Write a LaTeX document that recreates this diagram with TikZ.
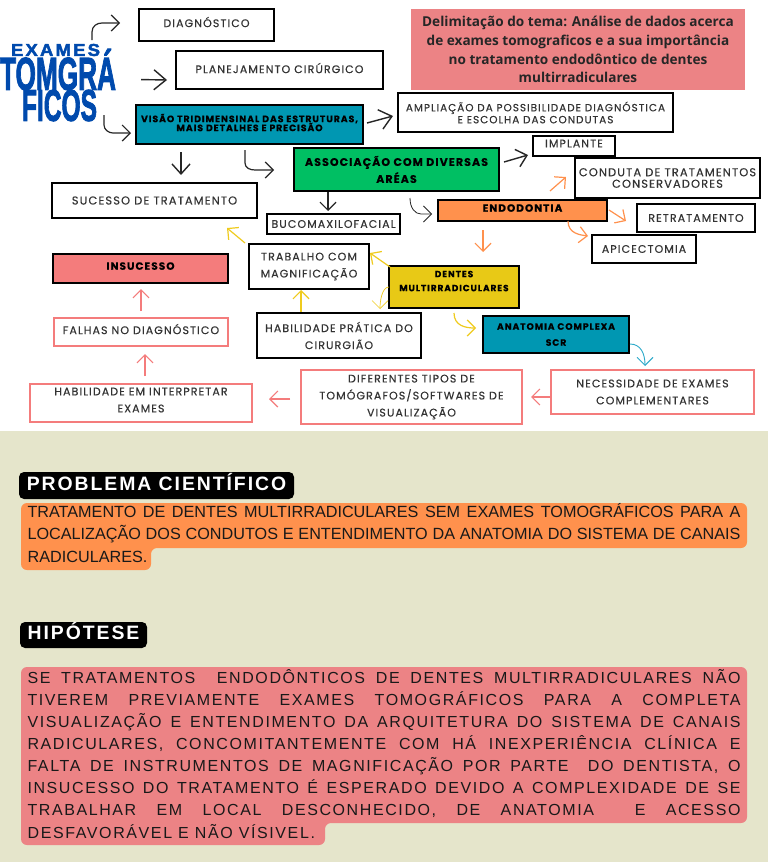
\documentclass[tikz,border=0pt]{standalone}
\usepackage{fontspec}
\usepackage{graphicx}
\usetikzlibrary{arrows.meta}
\setmainfont{Liberation Sans}
\newfontfamily\chartfont[LetterSpace=10, FakeBold=0.35]{Poppins}
\newfontfamily\headfont{Open Sans}
\newfontfamily\pillfont[LetterSpace=10]{Liberation Sans}
\newfontfamily\bigfont[BoldFeatures={FakeBold=2.5}]{Liberation Sans}
\lineskiplimit=-100pt
\definecolor{cInk}{HTML}{333333}
\definecolor{cBlue}{HTML}{004AAD}
\definecolor{cTeal}{HTML}{0097B2}
\definecolor{cGreen}{HTML}{00BF63}
\definecolor{cOrange}{HTML}{FF914D}
\definecolor{cYellow}{HTML}{E8C916}
\definecolor{cRed}{HTML}{F47C7C}
\definecolor{cRose}{HTML}{EC8385}
\definecolor{cSand}{HTML}{E5E5CB}
\definecolor{cArrY}{HTML}{EFCB1E}
\definecolor{cArrT}{HTML}{2BA9C9}
\newcommand{\fsz}[2]{\fontsize{#1}{#2}\selectfont}
\tikzset{
  chartbox/.style={rectangle, draw=black, line width=1.6pt, fill=white, align=center, inner sep=0pt,
                   outer sep=0pt, text=cInk, font=\chartfont\fsz{11}{17}},
  solidbox/.style={chartbox, text=black, font=\chartfont\bfseries\fsz{11}{17}},
  rosebox/.style={chartbox, draw=cRed, line width=1.4pt},
  blk/.style={-{Straight Barb[length=8pt, width=16pt]}, line width=1.2pt, draw=black!85},
  bigblk/.style={blk, -{Straight Barb[length=12pt, width=20pt]}, line width=1.4pt},
  thinblk/.style={blk, line width=0.8pt},
  orng/.style={blk, draw=cOrange},
  yllw/.style={blk, draw=cArrY},
  pnk/.style={blk, draw=cRed},
  tealarr/.style={blk, draw=cArrT, line width=0.9pt},
  pill/.style={rectangle, rounded corners=5pt, fill=black, text=white, inner sep=0pt, outer sep=0pt,
               text depth=8pt, font=\pillfont\bfseries\fsz{19.4}{22}},
  paraline/.style={anchor=base, inner sep=0pt, text=black!90},
}
\begin{document}
\begin{tikzpicture}[x=1pt, y=-1pt]
  \useasboundingbox (0,0) rectangle (768,862);
  \fill[white] (0,0) rectangle (768,431);
  \fill[cSand] (0,431) rectangle (768,862);

  % ---- title
  \node[inner sep=0pt, text=cBlue, font=\bigfont\bfseries] (exames) at (55.5,50)
       {\resizebox{89pt}{12pt}{\addfontfeature{LetterSpace=12}EXAMES}};
  \node[inner sep=0pt, text=cBlue, font=\bigfont\bfseries, anchor=south] (tomgra) at (58,90.5)
       {\resizebox{116pt}{41pt}{TOMGRÁ}};
  \node[inner sep=0pt, text=cBlue, font=\bigfont\bfseries] (ficos) at (59.5,105.5)
       {\resizebox{75pt}{31pt}{FICOS}};

  \node[rectangle, fill=cRose, minimum width=334pt, minimum height=81pt, align=center, inner sep=0pt,
        font=\headfont\bfseries\fsz{13.6}{18.8}, text=black!85] (tema) at (578,49.5)
       {Delimitação do tema: Análise de dados acerca\\ de exames tomograficos e a sua importância\\
        no tratamento endodôntico de dentes\\ multirradiculares};

  % ---- upper boxes
  \node[chartbox, minimum width=135pt, minimum height=32pt, text depth=6pt] (diag) at (206.5,25) {DIAGNÓSTICO};
  \node[chartbox, minimum width=207pt, minimum height=38pt, text depth=4pt] (plan) at (279.5,70) {PLANEJAMENTO CIRÚRGICO};
  \node[solidbox, fill=cTeal, minimum width=227pt, minimum height=39pt, font=\chartfont\bfseries\fsz{9.3}{9}, text depth=4pt] (visao) at (249.5,124.5)
       {VISÃO TRIDIMENSINAL DAS ESTRUTURAS,\\ MAIS DETALHES E PRECISÃO};
  \node[chartbox, minimum width=275pt, minimum height=39pt, font=\chartfont\fsz{10.4}{12}] (ampl) at (535.5,112.5)
       {AMPLIAÇÃO DA POSSIBILIDADE DIAGNÓSTICA\\ E ESCOLHA DAS CONDUTAS};
  \node[solidbox, fill=cGreen, minimum width=205pt, minimum height=43pt] (assoc) at (396.5,169.5)
       {ASSOCIAÇÃO COM DIVERSAS\\ ARÉAS};
  \node[chartbox, minimum width=205pt, minimum height=35pt, font=\chartfont\fsz{11.4}{17}] (suc) at (154.5,200.5) {SUCESSO DE TRATAMENTO};
  \node[chartbox, minimum width=133pt, minimum height=20pt] (buco) at (333.5,224) {BUCOMAXILOFACIAL};
  \node[chartbox, minimum width=82pt, minimum height=20pt, text depth=5pt] (impl) at (574,146) {IMPLANTE};
  \node[chartbox, minimum width=185pt, minimum height=40pt, font=\chartfont\fsz{11.4}{11.5}] (cond) at (667.5,178)
       {CONDUTA DE TRATAMENTOS\\ CONSERVADORES};
  \node[solidbox, fill=cOrange, minimum width=169pt, minimum height=21pt, text depth=5pt, font=\chartfont\bfseries\fsz{10.5}{17}] (endo) at (522.5,210.5) {ENDODONTIA};
  \node[chartbox, minimum width=118pt, minimum height=28pt] (retr) at (696,218) {RETRATAMENTO};
  \node[chartbox, minimum width=104pt, minimum height=28pt] (apic) at (644,249) {APICECTOMIA};

  % ---- lower boxes
  \node[chartbox, minimum width=120pt, minimum height=45pt] (trab) at (309,266.5) {TRABALHO COM\\ MAGNIFICAÇÃO};
  \node[solidbox, fill=cRed, minimum width=175pt, minimum height=29pt, text depth=5pt, font=\chartfont\bfseries\fsz{10.5}{11}] (insuc) at (140.5,268.5) {INSUCESSO};
  \node[solidbox, fill=cYellow, minimum width=130pt, minimum height=42pt, font=\chartfont\bfseries\fsz{9}{14}, text depth=12pt] (dentes) at (454,287)
       {DENTES\\ MULTIRRADICULARES};
  \node[chartbox, minimum width=164pt, minimum height=45pt] (hprat) at (339,335.5) {HABILIDADE PRÁTICA DO\\ CIRURGIÃO};
  \node[solidbox, fill=cTeal, minimum width=146pt, minimum height=37pt, font=\chartfont\bfseries\fsz{9.2}{16}] (anat) at (556,334.5)
       {ANATOMIA COMPLEXA\\ SCR};
  \node[rosebox, minimum width=174pt, minimum height=28pt, text depth=6pt] (falh) at (141,332) {FALHAS NO DIAGNÓSTICO};
  \node[rosebox, minimum width=222pt, minimum height=38pt, text depth=6pt] (hint) at (141,403) {HABILIDADE EM INTERPRETAR\\ EXAMES};
  \node[rosebox, minimum width=221pt, minimum height=54pt] (dif) at (411.5,397) {DIFERENTES TIPOS DE\\ TOMÓGRAFOS/SOFTWARES DE\\ VISUALIZAÇÃO};
  \node[rosebox, minimum width=203pt, minimum height=44pt] (nec) at (652.5,392) {NECESSIDADE DE EXAMES\\ COMPLEMENTARES};

  % ---- arrows
  \draw[blk] ([shift={(36.5,-10)}]exames.center) -- ++(0,-8) .. controls +(0,-6) and +(-5,0) .. ++(10,-9)
       -- ([shift={(-19,-2)}]diag.west);
  \draw[bigblk] ([shift={(25,10)}]tomgra.east) -- ([shift={(-9,10)}]plan.west);
  \draw[blk] ([shift={(44.5,9.5)}]ficos.center) -- ++(0,10) .. controls +(0,5) and +(-4,0) .. ++(9,8) -- ([shift={(-5,8.5)}]visao.west);
  \draw[bigblk] ([shift={(4,-1.5)}]visao.east) -- ([shift={(-5,3.5)}]ampl.west);
  \draw[bigblk, -{Straight Barb[length=10pt, width=18pt]}] ([shift={(-68.5,8)}]visao.south) -- ([shift={(26.5,-8)}]suc.north);
  \draw[blk] ([shift={(-4.5,6)}]visao.south) -- ++(0,13) .. controls +(0,5) and +(-5,0) .. ++(10,7) -- ([shift={(-20,0.5)}]assoc.west);
  \draw[blk] ([shift={(-68.5,1)}]assoc.south) -- ([shift={(-5.5,-3)}]buco.north);
  \draw[bigblk, -{Straight Barb[length=10pt, width=18pt]}] ([shift={(5,-7.5)}]assoc.east) -- ([shift={(-5,9)}]impl.west);
  \draw[thinblk] ([shift={(13.5,7)}]assoc.south) .. controls +(0,10) and +(-6,0) .. ([shift={(-17,3.5)}]endo.west) -- ([shift={(-6,3.5)}]endo.west);
  \draw[orng] ([shift={(27.5,-9)}]endo.north) -- ([shift={(-9,-1)}]cond.west);
  \draw[orng] ([shift={(2,-0.5)}]endo.east) -- ([shift={(-11,3)}]retr.west);
  \draw[orng] ([shift={(45.5,0)}]endo.south) .. controls +(0,13) and +(-7,-1) .. ([shift={(-4,-13)}]apic.west);
  \draw[orng] ([shift={(-39.5,9)}]endo.south) -- ([shift={(29,-14)}]dentes.north);
  \draw[yllw] ([shift={(1,1)}]dentes.north west) -- ([shift={(1,-13.5)}]trab.east);
  \draw[yllw] ([shift={(-4,-1)}]trab.north west) -- ([shift={(-30,10)}]suc.south east);
  \draw[yllw] ([shift={(-38,-1)}]hprat.north) -- ([shift={(-8,1)}]trab.south);
  \draw[yllw, line width=0.7pt] (dentes.west) .. controls +(-7,0) and +(0,-8) .. ([shift={(41,-4)}]hprat.north);
  \draw[yllw] ([shift={(0,5)}]dentes.south) .. controls +(0,13) and +(-10,0) .. ([shift={(-7,-6.5)}]anat.west);
  \draw[tealarr] ([shift={(1,9.5)}]anat.east) .. controls +(11,0) and +(0,-12) .. ([shift={(-7.5,-4)}]nec.north);
  \draw[pnk] ([shift={(0,5)}]nec.west) -- ([shift={(9,0)}]dif.east);
  \draw[pnk] ([shift={(-11,2)}]dif.west) -- ([shift={(17,-4)}]hint.east);
  \draw[pnk] ([shift={(4,-8)}]hint.north) -- ([shift={(4,8)}]falh.south);
  \draw[pnk] ([shift={(0,-7)}]falh.north) -- ([shift={(0.5,6)}]insuc.south);

  % ---- problema
  \node[pill, minimum width=275pt, minimum height=27pt] (ptitle) at (156.5,485.5) {PROBLEMA CIENTÍFICO};
  \fill[cOrange, rounded corners=6pt] (21,503) -- (747,503) -- (747,548) -- (151,548) -- (151,570) -- (21,570) -- cycle;
  \foreach \i/\t in {0/{TRATAMENTO DE DENTES MULTIRRADICULARES SEM EXAMES TOMOGRÁFICOS PARA A},
                     1/{LOCALIZAÇÃO DOS CONDUTOS E ENTENDIMENTO DA ANATOMIA DO SISTEMA DE CANAIS}} {
    \node[paraline, font=\fsz{16.2}{18}] (pl\i) at (384,517+22.5*\i) {\makebox[713pt][s]{\t}};
  }
  \node[paraline, anchor=base west, font=\fsz{16.2}{18}] (pl2) at (27.5,562) {RADICULARES.};

  % ---- hipotese
  \node[pill, minimum width=127pt, minimum height=26pt] (htitle) at (83.5,635) {HIPÓTESE};
  \fill[cRose, rounded corners=6pt] (21,667) -- (747,667) -- (747,823) -- (325,823) -- (325,845) -- (21,845) -- cycle;
  \foreach \i/\t in {0/{SE TRATAMENTOS \ ENDODÔNTICOS DE DENTES MULTIRRADICULARES NÃO},
                     1/{TIVEREM PREVIAMENTE EXAMES TOMOGRÁFICOS PARA A COMPLETA},
                     2/{VISUALIZAÇÃO E ENTENDIMENTO DA ARQUITETURA DO SISTEMA DE CANAIS},
                     3/{RADICULARES, CONCOMITANTEMENTE COM HÁ INEXPERIÊNCIA CLÍNICA E},
                     4/{FALTA DE INSTRUMENTOS DE MAGNIFICAÇÃO POR PARTE \ DO DENTISTA, O},
                     5/{INSUCESSO DO TRATAMENTO É ESPERADO DEVIDO A COMPLEXIDADE DE SE},
                     6/{TRABALHAR EM LOCAL DESCONHECIDO, DE ANATOMIA \ E ACESSO}} {
    \node[paraline, font=\pillfont\fsz{16}{18}] (hl\i) at (384,683+22.1*\i) {\makebox[713pt][s]{\t}};
  }
  \node[paraline, anchor=base west, font=\pillfont\fsz{16}{18}] (hl7) at (27.5,838) {DESFAVORÁVEL E NÃO VÍSIVEL.};
\end{tikzpicture}
\end{document}
